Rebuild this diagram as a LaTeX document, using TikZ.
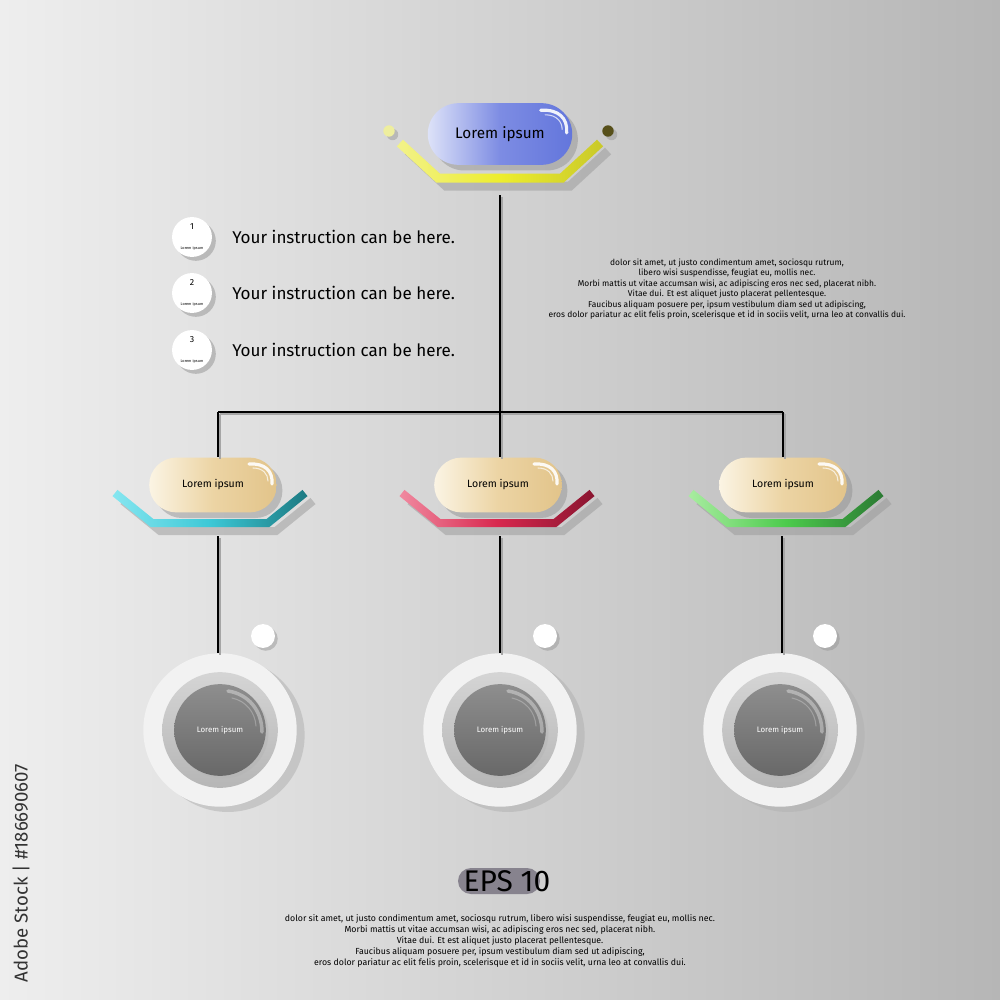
\documentclass[tikz,border=0pt]{standalone}
\usepackage{fontspec}
\setmainfont{Fira Sans}
\usetikzlibrary{shadows,calc}
\definecolor{bgL}{HTML}{EEEEEE}
\definecolor{bgR}{HTML}{B6B6B6}
\definecolor{blueL}{HTML}{DDE2F8}
\definecolor{blueM}{HTML}{7D8CE3}
\definecolor{blueR}{HTML}{6376DC}
\definecolor{sandL}{HTML}{FBF4E4}
\definecolor{sandM}{HTML}{ECD4A4}
\definecolor{sandR}{HTML}{E2C48A}
\definecolor{yelL}{HTML}{F2F28A}
\definecolor{yelM}{HTML}{EDED2E}
\definecolor{yelR}{HTML}{C9C92A}
\definecolor{cyL}{HTML}{86E6F0}
\definecolor{cyM}{HTML}{3CC8D6}
\definecolor{cyR}{HTML}{1D7A82}
\definecolor{rdL}{HTML}{F08AA0}
\definecolor{rdM}{HTML}{D8284E}
\definecolor{rdR}{HTML}{8A1530}
\definecolor{gnL}{HTML}{A8ECA0}
\definecolor{gnM}{HTML}{4CCB4C}
\definecolor{gnR}{HTML}{2B7A33}
\definecolor{ringC}{HTML}{CACACA}
\definecolor{ballT}{HTML}{8E8E8E}
\definecolor{ballB}{HTML}{686868}
\definecolor{epsC}{HTML}{87838E}
\definecolor{oliveC}{HTML}{57501A}
\definecolor{paleY}{HTML}{EEEE9E}
\newcommand\midbracket[5]{%
  \fill[black!40,opacity=.5,shift={(#1+8,#2+8)}] (-97.5,-11.9) -- (-59.4,19) -- (59.4,19) -- (97.5,-11.9) -- (92.5,-18.1) -- (56.6,11) -- (-56.6,11) -- (-92.5,-18.1) -- cycle;
  \shade[left color=#3,right color=#5,middle color=#4,shift={(#1,#2)}] (-97.5,-11.9) -- (-59.4,19) -- (59.4,19) -- (97.5,-11.9) -- (92.5,-18.1) -- (56.6,11) -- (-56.6,11) -- (-92.5,-18.1) -- cycle;}
\newcommand\gloss[3]{% x y scale
  \begin{scope}[shift={(#1,#2)},scale=#3]
    \draw[white,line width=1.8pt,opacity=.9,line cap=round] (36,-21) .. controls (52,-22) and (60,-14) .. (59,-1);
    \draw[white,line width=.6pt,opacity=.7,line cap=round] (40,-17) .. controls (50,-17) and (55,-11) .. (55,-4);
  \end{scope}}
\begin{document}
\begin{tikzpicture}[x=0.2mm,y=-0.2mm,
  conn/.style={draw=black,line width=0.6pt,preaction={draw=black!35,line width=0.7pt,transform canvas={xshift=1.1pt,yshift=-1.1pt}}},
  pillshadow/.style={drop shadow={shadow xshift=3.2pt,shadow yshift=-3.2pt,fill=black!45,opacity=.45}},
  midpill/.style={rectangle,rounded corners=15.5pt,minimum width=72.6pt,minimum height=31.2pt,inner sep=0pt,
     left color=sandL,right color=sandR,middle color=sandM,pillshadow,font=\fontsize{6}{7}\selectfont},
  toppill/.style={rectangle,rounded corners=17.5pt,minimum width=82.2pt,minimum height=35.1pt,inner sep=0pt,
     left color=blueL,right color=blueR,middle color=blueM,pillshadow,font=\fontsize{8.7}{10}\selectfont},
  outer/.style={circle,fill=white!95!black,minimum size=87.3pt,inner sep=0pt,
     drop shadow={shadow xshift=4.5pt,shadow yshift=-3pt,fill=black!30,opacity=.55}},
  ringn/.style={circle,top color=ringC!80!white,bottom color=ringC!90!black,minimum size=65.8pt,inner sep=0pt},
  ball/.style={circle,top color=ballT,bottom color=ballB,minimum size=52.2pt,inner sep=0pt,text=white,
     font=\fontsize{4.5}{5}\selectfont,drop shadow={shadow xshift=1.5pt,shadow yshift=-1.5pt,fill=black!30,opacity=.4}},
  wdot/.style={circle,fill=white,minimum size=13.6pt,inner sep=0pt,
     drop shadow={shadow xshift=1.6pt,shadow yshift=-1.6pt,fill=black!40,opacity=.5}},
  listdot/.style={circle,fill=white,minimum size=22.7pt,inner sep=0pt,align=center,
     drop shadow={shadow xshift=2.2pt,shadow yshift=-2.2pt,fill=black!40,opacity=.55}},
  para/.style={align=center,inner sep=0pt}]
\shade[left color=bgL,right color=bgR] (0,0) rectangle (1000,1000);
\useasboundingbox (0,0) rectangle (1000,1000);

% top dots
\node[circle,fill=paleY,minimum size=6.5pt,inner sep=0pt,drop shadow={shadow xshift=2pt,shadow yshift=-2pt,fill=black!40,opacity=.5}] (dl) at (389,131) {};
\node[circle,fill=oliveC,minimum size=6.5pt,inner sep=0pt,drop shadow={shadow xshift=2pt,shadow yshift=-2pt,fill=black!40,opacity=.5}] (dr) at (608,131) {};

% top bracket
\fill[black!40,opacity=.5,shift={(508,168)}] (-103.1,-13.7) -- (-63.8,22.5) -- (63.8,22.5) -- (103.1,-13.7) -- (97,-20.3) -- (60.2,13.5) -- (-60.2,13.5) -- (-97,-20.3) -- cycle;
\shade[left color=yelL,right color=yelR,middle color=yelM,shift={(500,160)}] (-103.1,-13.7) -- (-63.8,22.5) -- (63.8,22.5) -- (103.1,-13.7) -- (97,-20.3) -- (60.2,13.5) -- (-60.2,13.5) -- (-97,-20.3) -- cycle;
\node[toppill] (top) at (500,134) {Lorem ipsum};
\gloss{500}{134}{1.13}

% mid brackets and pills
\midbracket{210}{508}{cyL}{cyM}{cyR}
\midbracket{497}{508}{rdL}{rdM}{rdR}
\midbracket{786}{508}{gnL}{gnM}{gnR}
\node[midpill] (p1) at (213,485) {Lorem ipsum};
\node[midpill] (p2) at (498,485) {Lorem ipsum};
\node[midpill] (p3) at (783,485) {Lorem ipsum};
\gloss{213}{485}{1}
\gloss{498}{485}{1}
\gloss{783}{485}{1}

% connector coordinates
\coordinate (tb) at (500,195);
\coordinate (j0) at (500,412);
\coordinate (j1) at (218,412);
\coordinate (j3) at (783,412);
\coordinate (b1) at (218,536);
\coordinate (b2) at (500,536);
\coordinate (b3) at (782,536);

% circles
\foreach \k/\cx/\dx in {1/220/263,2/500/545,3/780/825}{
  \node[wdot] (d\k) at (\dx,636) {};
  \node[outer] (c\k) at (\cx,730) {};
  \node[ringn] (r\k) at (\cx,730) {};
  \node[ball] (s\k) at (\cx,730) {Lorem ipsum};
  \draw[white,opacity=.35,line width=2pt,line cap=round] (\cx+8,691) .. controls (\cx+28,694) and (\cx+42,710) .. (\cx+42,732);
  \draw[white,opacity=.25,line width=.6pt,line cap=round] (\cx+12,698) .. controls (\cx+26,701) and (\cx+35,712) .. (\cx+36,726);
}

% connectors
\draw[conn] (tb) -- (j0);
\draw[conn] (j1) -- (j0) -- (j3);
\draw[conn] (j1) -- (j1 |- p1.north);
\draw[conn] (j0) -- (j0 |- p2.north);
\draw[conn] (j3) -- (j3 |- p3.north);
\draw[conn] (b1) -- (b1 |- c1.north);
\draw[conn] (b2) -- (b2 |- c2.north);
\draw[conn] (b3) -- (b3 |- c3.north);

% list
\foreach \i/\y in {1/237,2/293,3/350}{
  \node[listdot] (l\i) at (192,\y) {{\fontsize{5}{5.5}\selectfont \i}\\[-0.5pt]{\fontsize{2.2}{2.6}\selectfont Lorem ipsum}};
  \node[anchor=west,inner sep=0pt,font=\fontsize{9.7}{11}\selectfont] (t\i) at (232,\y) {Your instruction can be here.};
}

% right paragraph
\node[para,font=\fontsize{4.8}{5.95}\selectfont] (rp) at (727,289) {dolor sit amet, ut justo condimentum amet, sociosqu rutrum,\\
libero wisi suspendisse, feugiat eu, mollis nec.\\
Morbi mattis ut vitae accumsan wisi, ac adipiscing eros nec sed, placerat nibh.\\
Vitae dui. Et est aliquet justo placerat pellentesque.\\
Faucibus aliquam posuere per, ipsum vestibulum diam sed ut adipiscing,\\
eros dolor pariatur ac elit felis proin, scelerisque et id in sociis velit, urna leo at convallis dui.};

% EPS badge
\fill[epsC] (458,868) [rounded corners=7.4pt] rectangle (540,894);
\node[inner sep=0pt,font=\fontsize{17}{18}\selectfont] (eps) at (507,881) {EPS 10};

% bottom paragraph
\node[para,font=\fontsize{5}{6.4}\selectfont] (bp) at (500,941) {dolor sit amet, ut justo condimentum amet, sociosqu rutrum, libero wisi suspendisse, feugiat eu, mollis nec.\\
Morbi mattis ut vitae accumsan wisi, ac adipiscing eros nec sed, placerat nibh.\\
Vitae dui. Et est aliquet justo placerat pellentesque.\\
Faucibus aliquam posuere per, ipsum vestibulum diam sed ut adipiscing,\\
eros dolor pariatur ac elit felis proin, scelerisque et id in sociis velit, urna leo at convallis dui.};

% side label
\node[rotate=90,inner sep=0pt,text=black!80,font=\fontsize{10.6}{12}\selectfont] (id) at (21,873) {Adobe Stock | \#186690607};
\end{tikzpicture}
\end{document}
